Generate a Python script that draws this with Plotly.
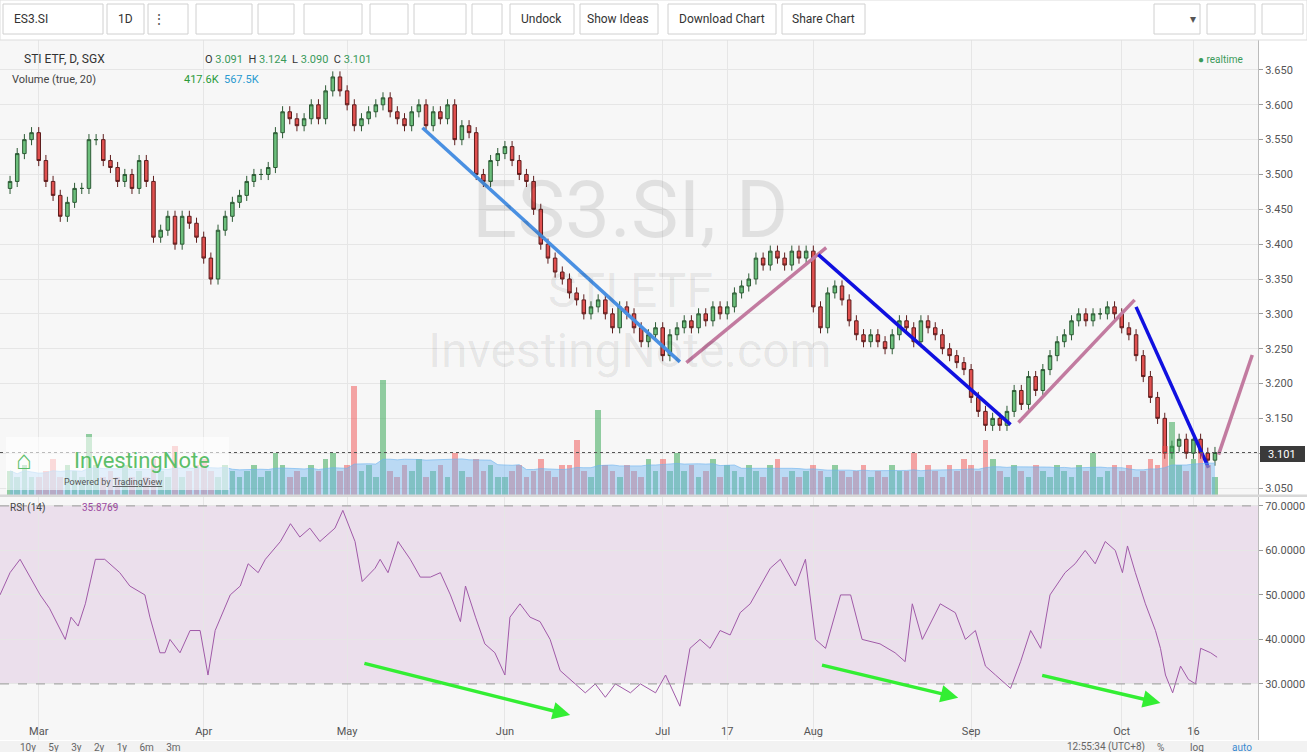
import plotly.graph_objects as go

W, H = 1307, 752
def px(x): return x / W
def py(y): return 1 - y / H

# ---------------- data ----------------
closes_feb = [3.49, 3.53, 3.55, 3.56]
closes_mar = [3.52,3.49,3.47,3.44,3.46,3.48,3.48,3.55,3.55,3.52,3.51,3.49,3.50,3.48,3.52,3.49,3.41,3.42,3.44,3.40,3.44,3.43,3.41]
closes_apr = [3.38,3.35,3.42,3.44,3.46,3.47,3.49,3.50,3.50,3.51,3.56,3.59,3.58,3.57,3.58,3.60,3.58,3.62,3.64,3.62]
closes_may = [3.60,3.57,3.58,3.59,3.60,3.61,3.59,3.58,3.57,3.59,3.60,3.57,3.59,3.58,3.60,3.55,3.57,3.56,3.50,3.49,3.52,3.53]
closes_jun = [3.54,3.52,3.50,3.49,3.45,3.40,3.38,3.36,3.35,3.33,3.32,3.30,3.31,3.32,3.30,3.28,3.31,3.30,3.28,3.26,3.27,3.28]
closes_jul = [3.24,3.27,3.28,3.29,3.28,3.30,3.29,3.31,3.30,3.31,3.33,3.34,3.35,3.38,3.37,3.39,3.38,3.37,3.39,3.38,3.39]
closes_aug = [3.31,3.28,3.33,3.34,3.32,3.29,3.27,3.26,3.27,3.26,3.25,3.27,3.29,3.28,3.26,3.29,3.28,3.27,3.25,3.24,3.23,3.22]
closes_sep = [3.18,3.16,3.14,3.15,3.14,3.16,3.19,3.17,3.21,3.19,3.22,3.24,3.26,3.27,3.29,3.30,3.29,3.30,3.30,3.31,3.30]
closes_oct = [3.28,3.27,3.24,3.21,3.18,3.15,3.10,3.11,3.12,3.10,3.12,3.10,3.09,3.101]
closes = closes_feb+closes_mar+closes_apr+closes_may+closes_jun+closes_jul+closes_aug+closes_sep+closes_oct

vol_feb = [.4,.3,.5,.3]
vol_mar = [.3,.4,.6,.3,.5,.4,.3,1.0,.5,.3,.4,.3,.5,.3,.4,.3,.6,.4,.3,.8,.3,.4,.5]
vol_apr = [.6,.4,.3,.5,.4,.3,.4,.5,.3,.4,.7,.5,.3,.4,.3,.5,.4,.6,.7,.4]
vol_may = [.5,1.8,.4,.5,.3,1.9,.4,.3,.5,.4,.6,.3,.4,.5,.3,.7,.4,.3,.6,.4,.5,.3]
vol_jun = [.3,.4,.5,.3,.4,.6,.4,.3,.5,.5,.9,.4,.3,1.4,.5,.4,.3,.5,.4,.3,.6,.4]
vol_jul = [.6,.4,.7,.4,.5,.3,.4,.6,.3,.5,.4,.3,.5,.4,.3,.5,.6,.3,.4,.3,.4]
vol_aug = [.5,.4,.3,.5,.4,.3,.4,.5,.3,.4,.3,.5,.4,.4,.7,.3,.5,.4,.3,.5,.4,.6]
vol_sep = [.5,.4,.9,.6,.4,.3,.5,.4,.3,.5,.4,.3,.5,.4,.3,.5,.4,.7,.3,.4,.5]
vol_oct = [.4,.5,.3,.4,.6,.5,.8,1.2,.5,.4,.6,.7,.5,.3]
volumes = vol_feb+vol_mar+vol_apr+vol_may+vol_jun+vol_jul+vol_aug+vol_sep+vol_oct

rsi_points = [(-1.4,50),(0,55),(1.4,58),(4.2,50),(5.5,47),(7.7,40),(8.5,45),(9.5,43),(10.5,48),(11.9,58),
 (13.2,58),(15.3,55),(16.7,52),(18.8,50),(19.5,45),(20.9,37),(21.6,37),(22.3,40),(23.7,37),(25.1,42),
 (26.5,42),(27.6,32),(28.6,42),(30.7,50),(32.1,52),(33.2,57),(34.6,55),(35.6,58),(37.7,62),(39.1,66),
 (40.4,63),(41.8,65),(43.2,62),(45.3,65),(46.4,69),(48.1,62),(49.1,53),(50.9,56),(51.6,58),(52.7,55),
 (54.1,62),(55.8,58),(57.2,54),(58.6,54),(60.0,55),(61.4,50),(62.8,44),(63.5,52),(64.9,45),(66.2,39),
 (67.6,37),(69.0,32),(69.7,45),(71.1,48),(72.5,45),(73.9,44),(75.3,40),(76.7,33),(78.8,30),(80.2,28),
 (81.6,30),(83.0,27),(84.4,30),(86.5,28),(87.9,30),(90.0,28),(91.4,32),(93.4,25),(94.8,38),(96.2,40),
 (97.6,38),(99.0,42),(100.4,41),(101.8,46),(103.2,48),(106.0,56),(107.4,58),(109.5,52),(110.9,58),(112.3,40),
 (113.7,38),(115.8,50),(117.2,50),(118.8,40),(121.3,39),(123.4,37),(124.8,35),(125.8,48),(127.2,40),(129.7,48),
 (131.8,46),(133.2,40),(134.6,42),(136.0,34),(137.4,32),(139.5,29),(140.9,35),(142.3,42),(143.7,38),(145.0,50),
 (147.1,55),(148.5,57),(149.9,60),(151.3,57),(152.7,62),(154.1,60),(155.1,55),(155.8,61),(156.9,55),(158.3,48),
 (159.7,42),(160.4,38),(161.1,32),(162.1,28),(163.2,34),(164.3,31),(165.3,30),(166.0,38),(167.4,37),(168.3,36)]
rsi_day = [p[0] for p in rsi_points]
rsi_val = [p[1] for p in rsi_points]

tick_days = [4, 27, 47, 69, 91, 100, 112, 134, 155, 165]
tick_text = ["Mar", "Apr", "May", "Jun", "Jul", "17", "Aug", "Sep", "Oct", "16"]

price_lines = [((57.5,3.567),(93.4,3.231),"#4a90e2"),((94.3,3.230),(113.8,3.395),"#c27ba0"),
               ((112.7,3.385),(139.5,3.141),"#1010e0"),((140.6,3.144),(156.8,3.320),"#c27ba0"),
               ((157,3.310),(167.1,3.079),"#1010e0"),((168.5,3.098),(173.2,3.241),"#c27ba0")]
rsi_arrows = [((49.2,34.7),(78.1,23.0)),((113,34.3),(132.2,26.9)),((143.7,32),(160.4,25.7))]

# --------------- build ---------------
n = len(closes)
days = list(range(n))
opens = [closes[0] - 0.01] + closes[:-1]
highs = [max(o, c) + 0.008 for o, c in zip(opens, closes)]
lows = [min(o, c) - 0.008 for o, c in zip(opens, closes)]
vcol = ["rgba(60,170,90,0.55)" if c >= o else "rgba(240,80,80,0.5)" for o, c in zip(opens, closes)]
ma = []
for i in range(n):
    w = volumes[max(0, i-19):i+1]
    ma.append(sum(w)/len(w))

fig = go.Figure()
fig.add_trace(go.Scatter(x=days, y=ma, xaxis="x", yaxis="y3", mode="lines", fill="tozeroy",
                         line=dict(color="rgba(110,180,240,0.6)", width=1), fillcolor="rgba(110,180,240,0.45)"))
fig.add_trace(go.Bar(x=days, y=volumes, xaxis="x", yaxis="y3", marker_color=vcol, marker_line_width=0, width=0.8))
fig.add_trace(go.Candlestick(x=days, open=opens, high=highs, low=lows, close=closes, xaxis="x", yaxis="y",
                             increasing=dict(fillcolor="#6cbf7c", line=dict(color="#2d5a35", width=1)),
                             decreasing=dict(fillcolor="#e0504f", line=dict(color="#5e1d1d", width=1)),
                             whiskerwidth=0))
fig.add_trace(go.Scatter(x=rsi_day, y=rsi_val, xaxis="x2", yaxis="y2", mode="lines",
                         line=dict(color="#a05aa8", width=1)))
for (a, b, col) in price_lines:
    fig.add_trace(go.Scatter(x=[a[0], b[0]], y=[a[1], b[1]], xaxis="x", yaxis="y", mode="lines",
                             line=dict(color=col, width=3.5)))

xr = [-1.4, 174]
pdom = [py(495), py(40)]
rdom = [py(740), py(497)]
grid = "#e6e6e6"
fig.update_layout(
    width=W, height=H, margin=dict(l=0, r=0, t=0, b=0), showlegend=False,
    paper_bgcolor="white", plot_bgcolor="#f7f7f7", bargap=0, barmode="overlay",
    font=dict(family="Roboto, Arial", size=11, color="#555"),
    xaxis=dict(domain=[0, px(1258)], range=xr, anchor="y", showticklabels=False, tickvals=tick_days,
               gridcolor=grid, rangeslider=dict(visible=False), zeroline=False, showline=False),
    xaxis2=dict(domain=[0, px(1258)], range=xr, anchor="y2", tickvals=tick_days, ticktext=tick_text,
                ticklabelposition="inside", gridcolor=grid, zeroline=False,
                tickfont=dict(size=11, color="#555")),
    yaxis=dict(domain=pdom, range=[3.040, 3.693], side="right", tickvals=[3.05 + 0.05*i for i in range(13)],
               tickformat=".3f", gridcolor=grid, zeroline=False, ticks="outside", ticklen=4, tickcolor="#999",
               showline=True, linecolor="#bbb"),
    yaxis3=dict(overlaying="y", range=[0, 7.5], visible=False),
    yaxis2=dict(domain=rdom, range=[17.4, 72.0], side="right", tickvals=[30, 40, 50, 60, 70],
                tickformat=".4f", gridcolor=grid, zeroline=False, ticks="outside", ticklen=4, tickcolor="#999",
                showline=True, linecolor="#bbb"),
)

shapes = []
shapes.append(dict(type="rect", xref="x2", yref="y2", x0=xr[0], x1=xr[1], y0=30, y1=70,
                   fillcolor="rgba(155,60,160,0.13)", line_width=0, layer="below"))
for v in (30, 70):
    shapes.append(dict(type="line", xref="x2", yref="y2", x0=xr[0], x1=xr[1], y0=v, y1=v,
                       line=dict(color="#999", width=1, dash="dash")))
shapes.append(dict(type="line", xref="x", yref="y", x0=xr[0], x1=xr[1], y0=3.101, y1=3.101,
                   line=dict(color="#555", width=1, dash="dot")))
shapes.append(dict(type="rect", xref="paper", yref="paper", x0=0, x1=1, y0=py(497), y1=py(494.5),
                   fillcolor="#d8d8d8", line_width=0))
shapes.append(dict(type="rect", xref="paper", yref="paper", x0=0, x1=1, y0=py(40), y1=1,
                   fillcolor="#ffffff", line=dict(color="#ddd", width=1)))
shapes.append(dict(type="rect", xref="paper", yref="paper", x0=0, x1=1, y0=0, y1=py(741),
                   fillcolor="#f2f2f2", line_width=0, layer="below"))
btns = [(3,103),(107,144),(148,188),(196,252),(258,294),(304,362),(370,408),(414,466),(472,502),(510,574),(580,658),(668,776),(782,865),(1154,1200),(1207,1255),(1262,1303)]
for a, b in btns:
    shapes.append(dict(type="rect", xref="paper", yref="paper", x0=px(a), x1=px(b), y0=py(34), y1=py(4),
                       fillcolor="white", line=dict(color="#d0d0d0", width=1)))
shapes.append(dict(type="rect", xref="paper", yref="paper", x0=px(6), x1=px(229), y0=py(490), y1=py(437),
                   fillcolor="rgba(255,255,255,0.6)", line_width=0))
shapes.append(dict(type="rect", xref="paper", yref="paper", x0=px(1260), x1=px(1305), y0=py(462), y1=py(446),
                   fillcolor="#3a3a3a", line_width=0))
fig.update_layout(shapes=shapes)

ann = []
def t(x, y, s, size=11, color="#444", anchor="left", **kw):
    ann.append(dict(xref="paper", yref="paper", x=px(x), y=py(y), text=s, showarrow=False,
                    xanchor=anchor, yanchor="middle", font=dict(size=size, color=color), **kw))
t(630, 210, "ES3.SI, D", 80, "rgba(0,0,0,0.09)", "center")
t(630, 290, "STI ETF", 48, "rgba(0,0,0,0.08)", "center")
t(630, 350, "InvestingNote.com", 48, "rgba(0,0,0,0.08)", "center")
for x, s in [(12,"ES3.SI"),(125,"1D"),(541,"Undock"),(618,"Show Ideas"),(722,"Download Chart"),(823,"Share Chart")]:
    t(x, 19, s, 12, "#333", "center" if x > 100 else "left")
t(150, 19, "⋮", 14, "#555")
t(1188, 19, "▾", 12, "#555")
t(22, 59, "STI ETF, D, SGX", 12, "#333")
t(203, 59, "O <span style='color:#3a9a5a'>3.091</span>  H <span style='color:#3a9a5a'>3.124</span>  L <span style='color:#3a9a5a'>3.090</span>  C <span style='color:#3a9a5a'>3.101</span>", 11, "#333")
t(10, 79, "Volume (true, 20)", 11, "#444")
t(182, 79, "417.6K", 11, "#2a9a3a")
t(222, 79, "567.5K", 11, "#2a9ad0")
t(1196, 59, "● realtime", 10, "#3a9a5a")
t(8, 508, "RSI (14)", 10, "#444")
t(80, 508, "35.8769", 10, "#9c4aa0")
t(1282, 454, "3.101", 11, "white", "center")
t(72, 460, "InvestingNote", 22, "#5cbf6a")
t(14, 460, "⌂", 26, "#5cbf6a")
t(62, 482, "Powered by <u>TradingView</u>", 9, "#555")
t(18, 747, "10y     5y     3y     2y     1y     6m     3m", 10, "#666")
t(1065, 747, "12:55:34 (UTC+8)", 10, "#666")
t(1155, 747, "%", 10, "#666")
t(1188, 747, "log", 10, "#666")
t(1230, 747, "auto", 10, "#3a8ad0")
for a, b in rsi_arrows:
    ann.append(dict(xref="x2", yref="y2", axref="x2", ayref="y2", x=b[0], y=b[1], ax=a[0], ay=a[1],
                    showarrow=True, arrowhead=2, arrowsize=1, arrowwidth=3.5, arrowcolor="#33ee33", text=""))
fig.update_layout(annotations=ann)

fig.write_html("out.html", config={"displayModeBar": False},
               post_script="document.body.style.margin='0';document.body.style.overflow='hidden';")
